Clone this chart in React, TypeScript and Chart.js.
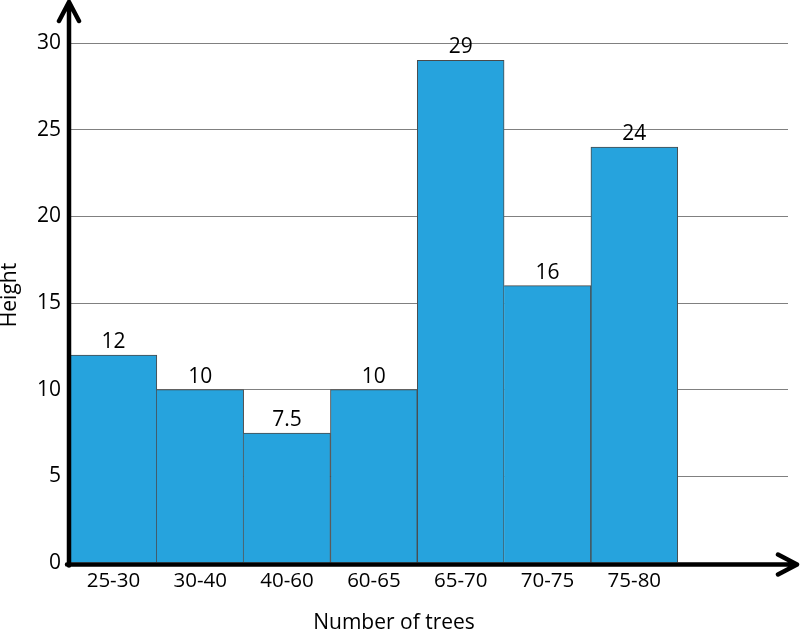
import React, { useEffect, useRef } from "react";
import { Chart, registerables } from "chart.js";

Chart.register(...registerables);

const categories = ["25-30", "30-40", "40-60", "60-65", "65-70", "70-75", "75-80"];
const heights = [12, 10, 7.5, 10, 29, 16, 24];
const yTicks = [0, 5, 10, 15, 20, 25, 30];
const xTitle = "Number of trees";
const yTitle = "Height";

const FONT = "'Open Sans', sans-serif";

const axesPlugin = {
  id: "arrowAxes",
  afterDraw(chart: any) {
    const { ctx, chartArea } = chart;
    const ax = chartArea.left - 1;
    const ay = chartArea.bottom + 1.5;
    ctx.save();
    ctx.strokeStyle = "#000";
    ctx.lineWidth = 4.5;
    ctx.lineCap = "round";
    ctx.lineJoin = "round";
    ctx.beginPath();
    ctx.moveTo(ax, ay + 1);
    ctx.lineTo(ax, 2);
    ctx.moveTo(ax - 10, 21);
    ctx.lineTo(ax, 2);
    ctx.lineTo(ax + 10, 21);
    ctx.stroke();
    ctx.beginPath();
    ctx.moveTo(ax - 2, ay);
    ctx.lineTo(797, ay);
    ctx.moveTo(778, ay - 10);
    ctx.lineTo(797, ay);
    ctx.lineTo(778, ay + 10);
    ctx.stroke();

    // y axis title
    ctx.fillStyle = "#000";
    ctx.font = `21px ${FONT}`;
    ctx.textAlign = "center";
    ctx.textBaseline = "middle";
    ctx.translate(10, (chartArea.top + chartArea.bottom) / 2 - 8);
    ctx.rotate(-Math.PI / 2);
    ctx.fillText(yTitle, 0, 0);
    ctx.restore();
  },
};

const valueLabelPlugin = {
  id: "valueLabels",
  afterDatasetsDraw(chart: any) {
    const { ctx } = chart;
    const meta = chart.getDatasetMeta(0);
    ctx.save();
    ctx.fillStyle = "#000";
    ctx.font = `21px ${FONT}`;
    ctx.textAlign = "center";
    ctx.textBaseline = "alphabetic";
    meta.data.forEach((el: any, i: number) => {
      ctx.fillText(String(heights[i]), el.x, el.y - 7);
    });
    ctx.restore();
  },
};

export default function App() {
  const ref = useRef<HTMLCanvasElement | null>(null);
  useEffect(() => {
    if (!ref.current) return;
    const data = heights.map((h, i) => ({ x: i + 0.5, y: h }));
    const chart = new Chart(ref.current, {
      type: "bar",
      data: {
        datasets: [
          {
            data: data as any,
            backgroundColor: "#26A3DD",
            borderColor: "#4a4a4a",
            borderWidth: (c: any) => {
              const i = c.dataIndex;
              const prev = i > 0 ? heights[i - 1] : Infinity;
              return { top: 1, right: 1, bottom: 0, left: prev < heights[i] ? 1 : 0 };
            },
            borderSkipped: false,
            categoryPercentage: 1,
            barPercentage: 1,
          } as any,
        ],
      },
      options: {
        animation: false,
        responsive: false,
        devicePixelRatio: 1,
        layout: { padding: { top: 43, right: 12, left: 0, bottom: 0 } },
        plugins: {
          legend: { display: false },
          tooltip: { enabled: false },
          title: {
            display: true,
            position: "bottom",
            text: xTitle,
            color: "#000",
            font: { family: FONT, size: 21, weight: "normal", lineHeight: 0.7 },
            padding: { top: 0, bottom: 0 },
          },
        },
        scales: {
          x: {
            type: "linear",
            min: 0,
            max: 8.27,
            offset: false,
            grid: { display: false, drawTicks: false },
            border: { display: false },
            afterBuildTicks: (scale: any) => {
              scale.ticks = categories.map((_, i) => ({ value: i + 0.5 }));
            },
            afterFit: (scale: any) => {
              scale.height = 52.3;
            },
            ticks: {
              autoSkip: false,
              maxRotation: 0,
              padding: 6,
              color: "#000",
              font: { family: FONT, size: 20.5 },
              callback: (v: any) => categories[Math.floor(Number(v))] ?? "",
            },
          },
          y: {
            min: 0,
            max: 30,
            afterBuildTicks: (scale: any) => {
              scale.ticks = yTicks.map((v) => ({ value: v }));
            },
            afterFit: (scale: any) => {
              scale.width = 70;
            },
            grid: {
              color: (c: any) => (c.tick && c.tick.value === 0 ? "rgba(0,0,0,0)" : "#808080"),
              lineWidth: 1,
              drawTicks: false,
            },
            border: { display: false },
            ticks: {
              padding: 9,
              color: "#000",
              font: { family: FONT, size: 21 },
            },
          },
        },
      },
      plugins: [valueLabelPlugin, axesPlugin],
    });
    return () => chart.destroy();
  }, []);
  return (
    <div style={{ position: "fixed", left: 0, top: 0, width: 800, height: 630, background: "#fff" }}>
      <canvas ref={ref} width={800} height={630} style={{ width: 800, height: 630 }} />
    </div>
  );
}
